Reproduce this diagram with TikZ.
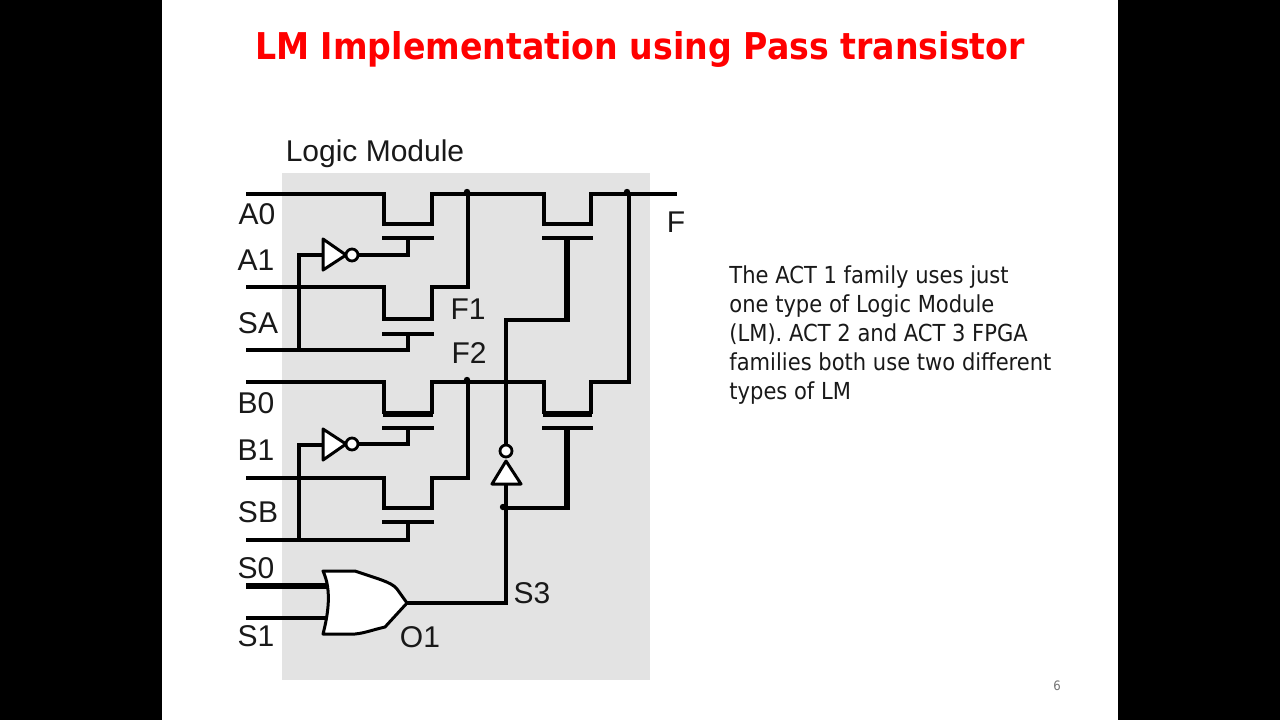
\documentclass[tikz,border=0pt]{standalone}
\usepackage{fontspec}
\setmainfont{Liberation Sans}
\newfontfamily\slidefont[FakeStretch=0.9]{DejaVu Sans}
\tikzset{
  wire/.style={line width=1.75pt,line join=miter},
  fatwire/.style={line width=2.7pt,line join=miter},
  gatebar/.style={line width=2pt},
  gatebody/.style={draw,line width=1.5pt,fill=white,line join=round},
  bubble/.style={circle,draw,line width=1.4pt,fill=white,inner sep=0pt,minimum size=6pt},
  joint/.style={circle,fill=black,inner sep=0pt,minimum size=3.2pt},
  pinlabel/.style={font=\fontsize{15}{15}\selectfont,text=black!90,inner sep=0pt}
}
\begin{document}
\begin{tikzpicture}[x=0.5pt,y=-0.5pt]
  \useasboundingbox (0,0) rectangle (1280,720);
  \fill[white] (0,0) rectangle (1280,720);
  \fill[black] (0,0) rectangle (162,720);
  \fill[black] (1118,0) rectangle (1280,720);
  \fill[black!11] (282,173) rectangle (650,680);
  % slide texts
  \node[text=red,inner sep=0pt,font=\slidefont\fontsize{18.45}{18.45}\selectfont\bfseries] (title) at (640,49) {LM Implementation using Pass transistor};
  \node[anchor=north west,align=left,inner sep=0pt,text=black!90,font=\slidefont\fontsize{11.7}{14.5}\selectfont] (note) at (729,265) {The ACT 1 family uses just\\one type of Logic Module\\(LM). ACT 2 and ACT 3 FPGA\\families both use two different\\types of LM};
  \node[text=black!55,inner sep=0pt,font=\slidefont\fontsize{6.5}{6.5}\selectfont] (page) at (1057,686) {6};
  % pin labels
  \node[pinlabel] (logic) at (375,154) {Logic Module};
  \node[pinlabel] (LA0) at (257,214) {A0};
  \node[pinlabel] (LA1) at (256,260) {A1};
  \node[pinlabel] (LSA) at (258,323) {SA};
  \node[pinlabel] (LB0) at (256,403) {B0};
  \node[pinlabel] (LB1) at (256,450) {B1};
  \node[pinlabel] (LSB) at (258,512) {SB};
  \node[pinlabel] (LS0) at (256,568) {S0};
  \node[pinlabel] (LS1) at (256,636) {S1};
  \node[pinlabel] (LF) at (676,222) {F};
  \node[pinlabel] (LF1) at (468,309) {F1};
  \node[pinlabel] (LF2) at (469,353) {F2};
  \node[pinlabel] (LS3) at (532,593) {S3};
  \node[pinlabel] (LO1) at (420,637) {O1};
  % upper input pair
  \coordinate (a0) at (246,194);
  \coordinate (a1) at (246,287);
  \coordinate (sa) at (246,350);
  \coordinate (fone) at (468,194);
  \coordinate (fout) at (677,194);
  \draw[wire] (a0) -- (384,194) -- (384,224) -- (432,224) -- (432,194) -- (544,194) -- (544,224) -- (591,224) -- (591,194) -- (fout);
  \draw[wire] (a1) -- (384,287) -- (384,319) -- (432,319) -- (432,287) -- (468,287) -- (fone);
  \draw[gatebar] (382,238) -- (434,238);
  \draw[gatebar] (382,334) -- (434,334);
  \draw[gatebody] (323,239) -- (346,255) -- (323,270) -- cycle;
  \node[bubble] (inva) at (352,255) {};
  \draw[wire] (inva) -- (408,255) -- (408,238);
  \draw[wire] (323,255) -- (299,255) -- (299,350);
  \draw[wire] (sa) -- (408,350) -- (408,334);
  \node[joint] (ja) at (467,192) {};
  % lower input pair
  \coordinate (b0) at (246,382);
  \coordinate (b1) at (246,478);
  \coordinate (sb) at (246,540);
  \coordinate (ftwo) at (468,382);
  \draw[wire] (b0) -- (384,382) -- (384,414);
  \draw[fatwire] (383,414) -- (433,414);
  \draw[wire] (432,414) -- (432,382) -- (544,382) -- (544,414);
  \draw[fatwire] (543,414) -- (592,414);
  \draw[wire] (591,414) -- (591,382) -- (629,382) -- (629,194);
  \draw[wire] (b1) -- (384,478) -- (384,508) -- (432,508) -- (432,478) -- (468,478) -- (ftwo);
  \draw[gatebar] (382,428) -- (434,428);
  \draw[gatebar] (382,522) -- (434,522);
  \draw[gatebody] (323,429) -- (346,444) -- (323,460) -- cycle;
  \node[bubble] (invb) at (352,444) {};
  \draw[wire] (invb) -- (408,444) -- (408,428);
  \draw[wire] (323,445) -- (299,445) -- (299,540);
  \draw[wire] (sb) -- (408,540) -- (408,522);
  \node[joint] (jb) at (467,380) {};
  \node[joint] (jc) at (627,192) {};
  % output stage
  \draw[gatebar] (542,238) -- (593,238);
  \draw[gatebar] (542,428) -- (593,428);
  \draw[fatwire] (567,238) -- (567,322);
  \draw[wire] (568,320) -- (506,320) -- (506,446);
  \draw[fatwire] (567,428) -- (567,510);
  \draw[wire] (568,508) -- (506,508);
  \draw[wire] (506,484) -- (506,603);
  \draw[gatebody] (506,461) -- (521,484) -- (492,484) -- cycle;
  \node[bubble] (invc) at (506,451) {};
  \node[joint] (jd) at (503,507) {};
  % select gate
  \draw[fatwire] (246,586) -- (330,586);
  \draw[wire] (246,618) -- (326,618);
  \draw[wire] (407,603) -- (506,603) -- (506,560);
  \draw[gatebody] (323,571) -- (355,571) .. controls (375,578) and (392,582) .. (397,589) -- (407,603) -- (385,627) .. controls (372,630) and (365,633) .. (355,634) -- (323,634) .. controls (328,615) and (332,590) .. cycle;
\end{tikzpicture}
\end{document}
